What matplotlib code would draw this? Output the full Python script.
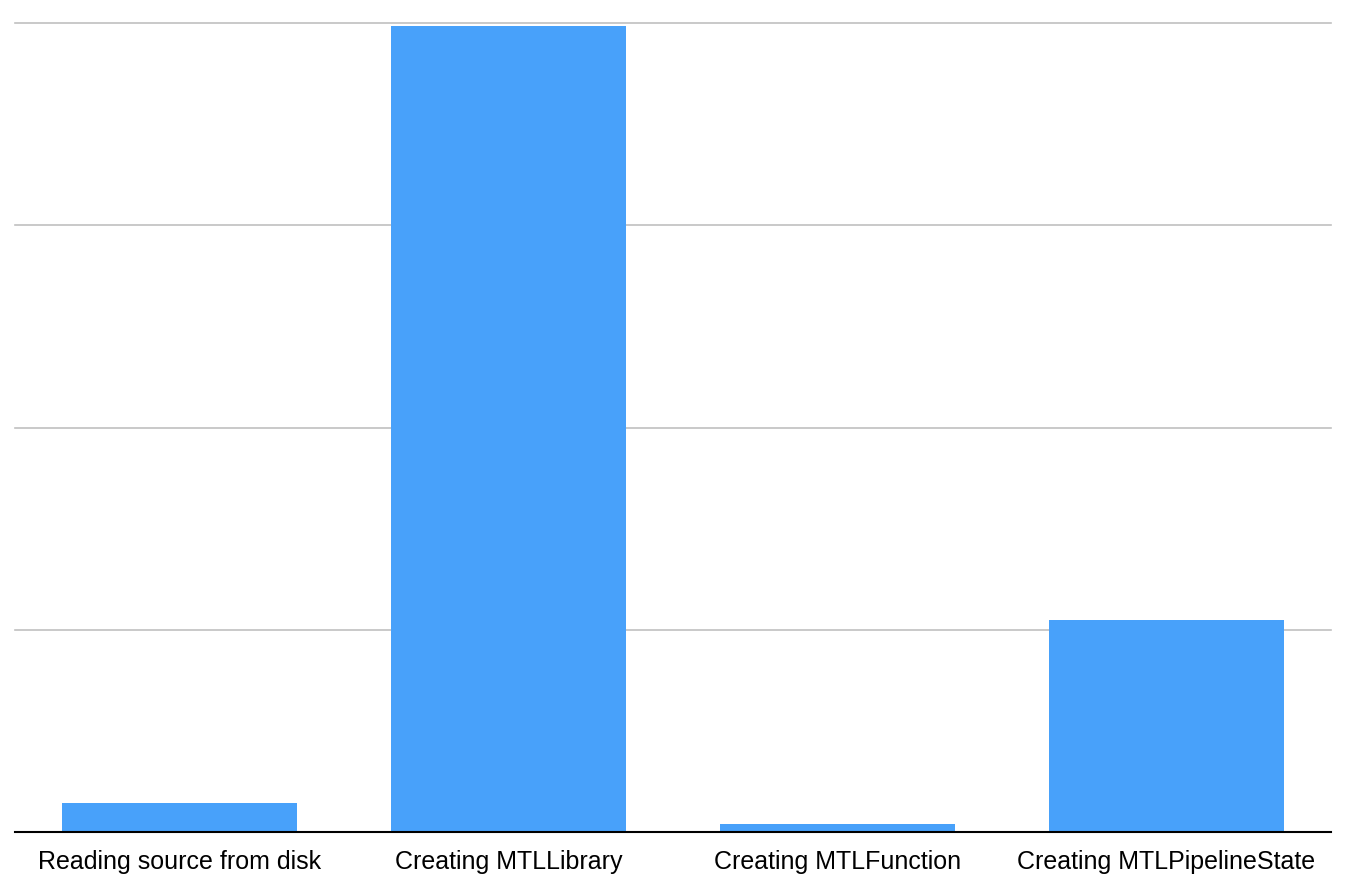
import matplotlib
matplotlib.use("Agg")
import matplotlib.pyplot as plt

categories = ["Reading source from disk", "Creating MTLLibrary", "Creating MTLFunction", "Creating MTLPipelineState"]
values = [0.143, 3.985, 0.04, 1.05]
grid_levels = [1, 2, 3, 4]

plt.rcParams['font.family'] = ['Liberation Sans', 'DejaVu Sans']

fig = plt.figure(figsize=(13.48, 8.90), dpi=100)
x0, x1 = 15 / 1348, 1331 / 1348
ytop, ybot = 23 / 890, 832 / 890
ax = fig.add_axes([x0, 1 - ybot, x1 - x0, ybot - ytop])

ax.bar(range(len(categories)), values, width=0.714, color="#48A1FA", zorder=2)
ax.set_xlim(-0.5, len(categories) - 0.5)
ax.set_ylim(0, 4)
for g in grid_levels:
    ax.axhline(g, color="#c0c0c0", linewidth=1.2, zorder=1, clip_on=False)
ax.axhline(0, color="black", linewidth=1.5, zorder=3, clip_on=False)

for s in ax.spines.values():
    s.set_visible(False)
ax.set_yticks([])
ax.set_xticks(range(len(categories)))
ax.set_xticklabels(categories, fontsize=18)
ax.tick_params(axis='x', length=0, pad=13)

fig.savefig("out.png", dpi=100, facecolor="white")
